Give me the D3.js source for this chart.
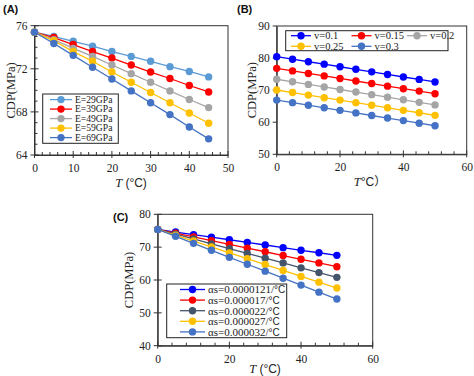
<!DOCTYPE html>
<html><head><meta charset="utf-8">
<script src="https://cdn.jsdelivr.net/npm/d3@7/dist/d3.min.js"></script>
<style>
body{margin:0;background:#fff;}
svg{display:block;}
text{fill:#222;}
</style></head>
<body>
<svg id="c" width="474" height="376"></svg>
<script>
// ---------- DATA ----------
const tempA = [0,5,10,15,20,25,30,35,40,45];
const namesA = ["E=29GPa","E=39GPa","E=49GPa","E=59GPa","E=69GPa"];
const E29 = [75.4,75.0,74.55,74.1,73.6,73.15,72.7,72.2,71.75,71.25];
const E39 = [75.4,74.9,74.25,73.6,73.0,72.35,71.7,71.1,70.45,69.85];
const E49 = [75.4,74.7,73.9,73.15,72.35,71.55,70.75,69.95,69.15,68.4];
const E59 = [75.4,74.6,73.6,72.7,71.7,70.75,69.8,68.85,67.9,66.95];
const E69 = [75.4,74.35,73.25,72.15,71.05,69.95,68.85,67.75,66.6,65.5];
const colorsA = ["#5B9BD5","#FF0000","#A5A5A5","#FFC000","#4472C4"];

const tempB = [0,5,10,15,20,25,30,35,40,45,50];
const namesB = ["v=0.1","v=0.15","v=0.2","v=0.25","v=0.3"];
const v010 = [80.45,79.65,78.85,78.1,77.3,76.5,75.7,74.9,74.1,73.35,72.55];
const v015 = [76.8,76.0,75.2,74.45,73.65,72.85,72.05,71.25,70.45,69.7,68.9];
const v020 = [73.4,72.6,71.8,71.0,70.2,69.4,68.6,67.8,67.0,66.2,65.4];
const v025 = [70.05,69.25,68.45,67.65,66.9,66.1,65.3,64.5,63.7,62.95,62.15];
const v030 = [66.9,66.1,65.3,64.5,63.7,62.9,62.1,61.3,60.5,59.7,58.9];
const colorsB = ["#0000FF","#FF0000","#A5A5A5","#FFC000","#4472C4"];

const tempC = [0,5,10,15,20,25,30,35,40,45,50];
const namesC = ["\u03b1s=0.0000121/","\u03b1s=0.000017/","\u03b1s=0.000022/","\u03b1s=0.000027/","\u03b1s=0.000032/"];
const a1 = [75.4,74.6,73.8,73.05,72.25,71.45,70.65,69.85,69.05,68.3,67.5];
const a2 = [75.4,74.25,73.1,72.0,70.85,69.7,68.6,67.45,66.3,65.2,64.05];
const a3 = [75.4,73.95,72.5,71.0,69.55,68.1,66.65,65.2,63.7,62.25,60.8];
const a4 = [75.4,73.6,71.85,70.05,68.25,66.5,64.7,62.9,61.1,59.35,57.55];
const a5 = [75.4,73.3,71.15,69.05,66.9,64.8,62.7,60.55,58.45,56.3,54.2];
const colorsC = ["#0000FF","#FF0000","#44546A","#FFC000","#4472C4"];

const ticksA_x = [0,10,20,30,40,50], ticksA_y = [64,68,72,76];
const ticksB_x = [0,20,40,60], ticksB_y = [50,60,70,80,90];
const ticksC_x = [0,20,40,60], ticksC_y = [40,50,60,70,80];

// ---------- DRAW ----------
const SERIF = "'Liberation Serif','Times New Roman',serif";
const SANS = "'Liberation Sans',Arial,sans-serif";
const svg = d3.select("#c");

function panel(o){
  const g = svg.append("g");
  const x = d3.scaleLinear().domain(o.xd).range(o.xr);
  const y = d3.scaleLinear().domain(o.yd).range(o.yr);
  g.append("rect").attr("x",o.xr[0]).attr("y",o.yr[1])
    .attr("width",o.xr[1]-o.xr[0]).attr("height",o.yr[0]-o.yr[1])
    .attr("fill","none").attr("stroke","#333").attr("stroke-width",1);
  const xa = g.append("g").attr("transform",`translate(0,${o.yr[0]})`)
    .call(d3.axisBottom(x).tickValues(o.xt).tickSize(0).tickPadding(9).tickFormat(d3.format("d")));
  xa.select(".domain").attr("stroke","#333");
  xa.selectAll("text").style("font-size","11.5px").style("font-family",SERIF).style("fill","#222");
  g.append("g").selectAll("line").data(d3.range(o.xd[0],o.xd[1]+0.001,o.xminor))
    .join("line").attr("x1",d=>x(d)).attr("x2",d=>x(d))
    .attr("y1",d=>o.yr[0]+(o.xt.includes(d)?3:0)).attr("y2",d=>o.yr[0]-(o.xt.includes(d)?4:3))
    .attr("stroke","#333");
  const ya = g.append("g").attr("transform",`translate(${o.xr[0]},0)`)
    .call(d3.axisLeft(y).tickValues(o.yt).tickSize(0).tickPadding(7).tickFormat(d3.format("d")));
  ya.select(".domain").attr("stroke","#333");
  ya.selectAll("text").style("font-size","11.5px").style("font-family",SERIF).style("fill","#222");
  g.append("g").selectAll("line").data(o.yt).join("line")
    .attr("x1",o.xr[0]-4).attr("x2",o.xr[0]+(o.yin?4:0))
    .attr("y1",d=>y(d)).attr("y2",d=>y(d)).attr("stroke","#333");
  if(o.yminor){
    g.append("g").selectAll("line").data(d3.range(o.yd[0],o.yd[1]+0.001,o.yminor).filter(d=>!o.yt.includes(d)))
      .join("line").attr("x1",o.xr[0]).attr("x2",o.xr[0]+3)
      .attr("y1",d=>y(d)).attr("y2",d=>y(d)).attr("stroke","#333");
  }
  const line = d3.line().x((d,i)=>x(o.t[i])).y(d=>y(d));
  o.series.forEach((s,k)=>{
    const sg = g.append("g");
    sg.append("path").attr("d",line(s)).attr("fill","none").attr("stroke",o.colors[k]).attr("stroke-width",1.3);
    sg.selectAll("circle").data(s).join("circle")
      .attr("cx",(d,i)=>x(o.t[i])).attr("cy",d=>y(d)).attr("r",3.7).attr("fill",o.colors[k]);
  });
  const L = o.legend;
  g.append("rect").attr("x",L.x).attr("y",L.y).attr("width",L.w).attr("height",L.h)
    .attr("fill","#fff").attr("stroke","#222").attr("stroke-width",1);
  L.items.forEach((it,k)=>{
    const lg = g.append("g");
    lg.append("line").attr("x1",it.x).attr("x2",it.x+L.len).attr("y1",it.y).attr("y2",it.y)
      .attr("stroke",o.colors[k]).attr("stroke-width",1.3);
    lg.append("circle").attr("cx",it.x+L.len/2).attr("cy",it.y).attr("r",3.7).attr("fill",o.colors[k]);
    const t = lg.append("text").attr("x",it.x+L.len+3).attr("y",it.y).attr("dy","0.35em")
      .style("font-size",L.fs+"px").style("font-family",SERIF).text(o.names[k]);
    if(L.suffix){
      t.append("tspan").style("font-family",SANS).style("font-size",(L.fs-1)+"px").text(L.suffix);
    }
  });
  const cy = (o.yr[0]+o.yr[1])/2;
  g.append("text").attr("transform",`translate(${o.ylx},${cy}) rotate(-90)`)
    .attr("text-anchor","middle").attr("dy","0.35em").style("font-size","12.5px").style("font-family",SERIF).text("CDP(MPa)");
  const xt = g.append("text").attr("x",o.xlx).attr("y",o.xly).attr("text-anchor","middle")
    .style("font-size","12.5px").style("font-family",SERIF);
  xt.append("tspan").style("font-style","italic").text("T");
  xt.append("tspan").style("font-family",o.xlfont).style("font-size","12px").text(o.xlsuffix);
  svg.append("text").attr("x",o.lab[0]).attr("y",o.lab[1]).style("font-family",SANS)
    .style("font-weight","bold").style("font-size","11px").style("fill","#111").text(o.label);
}

panel({
  xd:[0,50], xr:[34.5,228], yd:[64,76], yr:[155,25.7],
  xt:ticksA_x, yt:ticksA_y, xminor:2, yminor:1, yin:true,
  t:tempA, series:[E29,E39,E49,E59,E69], colors:colorsA, names:namesA,
  legend:{x:42.7,y:94,w:75.6,h:49.3,len:22,fs:9.6,
    items:[0,1,2,3,4].map(i=>({x:50,y:99.6+i*9.5}))},
  ylx:11, xlx:131, xly:187, xlsuffix:" (\u00b0C)", xlfont:SANS,
  label:"(A)", lab:[3,13]
});

panel({
  xd:[0,60], xr:[276.7,466.7], yd:[50,90], yr:[154.3,26],
  xt:ticksB_x, yt:ticksB_y, xminor:4, yminor:null, yin:false,
  t:tempB, series:[v010,v015,v020,v025,v030], colors:colorsB, names:namesB,
  legend:{x:285.7,y:30.7,w:162.3,h:20,len:20,fs:10.5,
    items:[{x:291,y:35.7},{x:351.5,y:35.7},{x:407,y:35.7},{x:291,y:46.3},{x:351.5,y:46.3}]},
  ylx:252, xlx:370, xly:186, xlsuffix:"\u00b0C\uff09", xlfont:"'Liberation Sans','Noto Sans CJK SC',sans-serif",
  label:"(B)", lab:[237,13]
});

panel({
  xd:[0,60], xr:[157.7,372.7], yd:[40,80], yr:[345.7,214.3],
  xt:ticksC_x, yt:ticksC_y, xminor:4, yminor:null, yin:true,
  t:tempC, series:[a1,a2,a3,a4,a5], colors:colorsC, names:namesC,
  legend:{x:166.7,y:284,w:120,h:53.7,len:25,fs:11,suffix:"\u00b0C",
    items:[0,1,2,3,4].map(i=>({x:180,y:289.5+i*10.6}))},
  ylx:129, xlx:265, xly:373, xlsuffix:" (\u00b0C)", xlfont:SANS,
  label:"(C)", lab:[113,221]
});
</script>
</body></html>
